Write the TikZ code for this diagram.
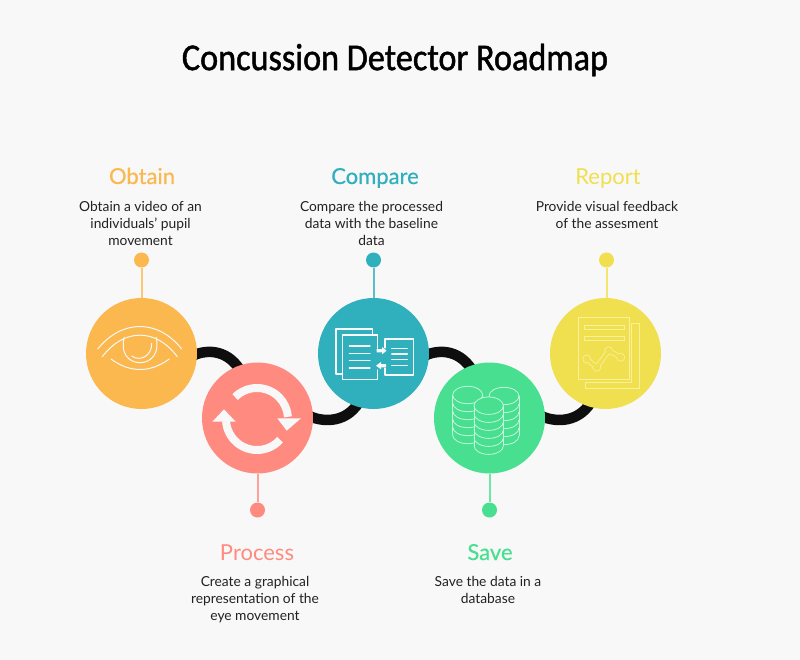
\documentclass[tikz,border=0pt]{standalone}
\usepackage{fontspec}
\setmainfont{Lato}
\newfontfamily\titlefont{Carlito}[FakeBold=1.2,FakeStretch=0.9]
\newfontfamily\headfont{Lato}[FakeBold=0.5]
\definecolor{paper}{HTML}{F8F8F8}
\definecolor{ink}{HTML}{222222}
\definecolor{obtainc}{HTML}{FBB84F}
\definecolor{processc}{HTML}{FF8A80}
\definecolor{comparec}{HTML}{2FB0BC}
\definecolor{savec}{HTML}{48E090}
\definecolor{reportc}{HTML}{F0DF4F}
\definecolor{savel}{HTML}{C4F6DA}
\definecolor{reportl}{HTML}{F9F09A}
\pgfdeclarelayer{paperlayer}
\pgfdeclarelayer{linklayer}
\pgfsetlayers{paperlayer,linklayer,main}
\tikzset{
  stepnode/.style={circle,fill=#1,minimum size=111pt,inner sep=0pt},
  dotnode/.style={circle,fill=#1,minimum size=15pt,inner sep=0pt},
  pinline/.style={draw=#1!80,line width=2pt},
  link/.style={draw=ink!40!black,line width=10.5pt,shorten >=-5pt,shorten <=-5pt},
  head/.style={text=#1,font=\headfont\fontsize{22}{26}\selectfont,inner sep=0pt,anchor=base},
  lighthead/.style={text=#1,font=\fontsize{22}{26}\selectfont,inner sep=0pt,anchor=base},
  body/.style={text=ink,font=\fontsize{13.8}{17}\selectfont,align=center,inner sep=0pt,anchor=north},
  icon/.style={draw=paper,line width=1pt,line cap=round,line join=round},
}
\newcommand{\dbstack}[3]{% x, y of top ellipse, rx
  \fill[savec] (#1-#3,#2) -- (#1-#3,#2+40) arc[start angle=180,end angle=0,x radius=#3,y radius=8.7] -- (#1+#3,#2) arc[start angle=0,end angle=-180,x radius=#3,y radius=8.7] -- cycle;
  \draw[savel,line width=.8pt] (#1,#2) ellipse[x radius=#3,y radius=8.7];
  \draw[savel,line width=.8pt] (#1-#3,#2) -- (#1-#3,#2+40) (#1+#3,#2) -- (#1+#3,#2+40);
  \foreach \k in {8,16,24,32,40}
    \draw[savel,line width=.8pt] (#1-#3,#2+\k) arc[start angle=180,end angle=0,x radius=#3,y radius=8.7];
}
\begin{document}
\begin{tikzpicture}[x=1pt,y=-1pt]
  \begin{pgfonlayer}{paperlayer}
    \fill[paper] (0,0) rectangle (800,660);
  \end{pgfonlayer}
  \useasboundingbox (0,0) rectangle (800,660);

  \node[text=black,font=\titlefont\fontsize{38}{42}\selectfont,inner sep=0pt] (title) at (395,60) {Concussion Detector Roadmap};

  % steps
  \node[stepnode=obtainc] (obtain) at (141.5,353.5) {};
  \node[stepnode=processc] (process) at (257.5,418) {};
  \node[stepnode=comparec] (compare) at (373.5,353.5) {};
  \node[stepnode=savec] (save) at (489.5,418) {};
  \node[stepnode=reportc] (report) at (605.5,353.5) {};

  % pins
  \node[dotnode=obtainc] (obtaindot) at (141.5,260) {};
  \node[dotnode=processc] (processdot) at (257.5,510) {};
  \node[dotnode=comparec] (comparedot) at (373.5,260) {};
  \node[dotnode=savec] (savedot) at (489.5,510) {};
  \node[dotnode=reportc] (reportdot) at (606.5,260) {};
  \draw[pinline=obtainc] (obtaindot.south) -- (obtain.north);
  \draw[pinline=processc] (processdot.north) -- (process.south);
  \draw[pinline=comparec] (comparedot.south) -- (compare.north);
  \draw[pinline=savec] (savedot.north) -- (save.south);
  \draw[pinline=reportc] (reportdot.south) -- (reportdot |- report.north);

  % links behind the circles
  \begin{pgfonlayer}{linklayer}
    \draw[link] (obtain.east) .. controls +(6,-3) and +(-12,-19) .. (process.111);
    \draw[link] (process.east) .. controls +(6,3) and +(-12,19) .. (compare.252);
    \draw[link] (compare.east) .. controls +(6,-3) and +(-12,-19) .. (save.111);
    \draw[link] (save.east) .. controls +(6,3) and +(-12,19) .. (report.252);
  \end{pgfonlayer}

  % texts
  \node[head=obtainc] (obtainh) at (142,184) {Obtain};
  \node[lighthead=processc] (processh) at (257,560) {Process};
  \node[head=comparec] (compareh) at (375,184) {Compare};
  \node[head=savec] (saveh) at (490,560) {Save};
  \node[lighthead=reportc] (reporth) at (608,184.5) {Report};
  \node[body] (obtaint) at (140.5,201) {Obtain a video of an\\individuals' pupil\\movement};
  \node[body] (processt) at (255,576) {Create a graphical\\representation of the\\eye movement};
  \node[body] (comparet) at (371.5,201) {Compare the processed\\data with the baseline\\data};
  \node[body] (savet) at (488,576) {Save the data in a\\database};
  \node[body] (reportt) at (607,201) {Provide visual feedback\\of the assesment};

  % eye
  \draw[icon] (97.7,349) .. controls (122,319) and (158,319) .. (181.7,349);
  \draw[icon] (102.3,356.7) .. controls (124,328) and (156,328) .. (177.3,356.7);
  \draw[icon] (111,359) .. controls (130,373) and (150,373) .. (169.3,359);
  \draw[icon] (124.3,337.3) .. controls (120,352) and (128,362.7) .. (140,362.7) .. controls (152,362.7) and (160,352) .. (156,337.3);
  \draw[icon] (131.7,356) .. controls (140,362) and (152,356) .. (151.7,343.3);

  % cycle arrows
  \draw[draw=paper,line width=8pt] (257,419)+(-135:31) arc[start angle=-135,end angle=-4,radius=31];
  \fill[paper] (277.3,418.3) -- (301,418.3) -- (286.7,430.7) -- cycle;
  \draw[draw=paper,line width=8pt] (257,419)+(176:31) arc[start angle=176,end angle=42,radius=31];
  \fill[paper] (212.3,421.7) -- (235.7,421.7) -- (224,409.3) -- cycle;

  % documents
  \begin{scope}[icon,line width=1.2pt]
    \draw (342.3,374) -- (336,374) -- (336,329) -- (372.3,329) -- (372.3,334.3);
    \draw (377.7,348.3) -- (377.7,335) -- (342.3,335) -- (342.3,379.3) -- (377.7,379.3) -- (377.7,370);
    \foreach \yy in {346,353.3,360.7,368} \draw (349.3,\yy) -- (370,\yy);
    \draw (385,348) -- (385,339) -- (413.7,339) -- (413.7,375) -- (385,375) -- (385,368);
    \foreach \yy in {348.3,354,359.3,365.3} \draw (391.7,\yy) -- (407.3,\yy);
    \fill[paper] (376.7,349) -- (382,349) -- (382,347) -- (386.5,350.7) -- (382,354.4) -- (382,352.4) -- (376.7,352.4) -- cycle;
    \fill[paper] (386,364) -- (381,364) -- (381,362) -- (376,365.7) -- (381,369.4) -- (381,367.4) -- (386,367.4) -- cycle;
  \end{scope}

  % database
  \dbstack{467.7}{395}{15}
  \dbstack{504}{396}{15}
  \dbstack{488.7}{405.7}{14.7}

  % report sheet
  \begin{scope}[draw=reportl,line width=1pt]
    \draw (578.3,317.3) rectangle (629,379);
    \draw (631.7,323.3) -- (639,323.3) -- (639,388.3) -- (585.7,388.3) -- (585.7,382.7) -- (631.7,382.7) -- cycle;
    \draw (584.3,325.3) rectangle (624,329.3);
    \draw (584.3,336.3) rectangle (624,340.7);
    \fill[reportl] (586.7,359) circle (4.4) (596.7,367.3) circle (4.4) (608.7,350.7) circle (4.4) (620.7,357.3) circle (4.4);
    \draw[line width=5pt,line join=round] (586.7,359) -- (596.7,367.3) -- (608.7,350.7) -- (620.7,357.3);
    \fill[reportc] (586.7,359) circle (3.5) (596.7,367.3) circle (3.5) (608.7,350.7) circle (3.5) (620.7,357.3) circle (3.5);
    \draw[draw=reportc,line width=3.2pt,line join=round] (586.7,359) -- (596.7,367.3) -- (608.7,350.7) -- (620.7,357.3);
  \end{scope}
\end{tikzpicture}
\end{document}
